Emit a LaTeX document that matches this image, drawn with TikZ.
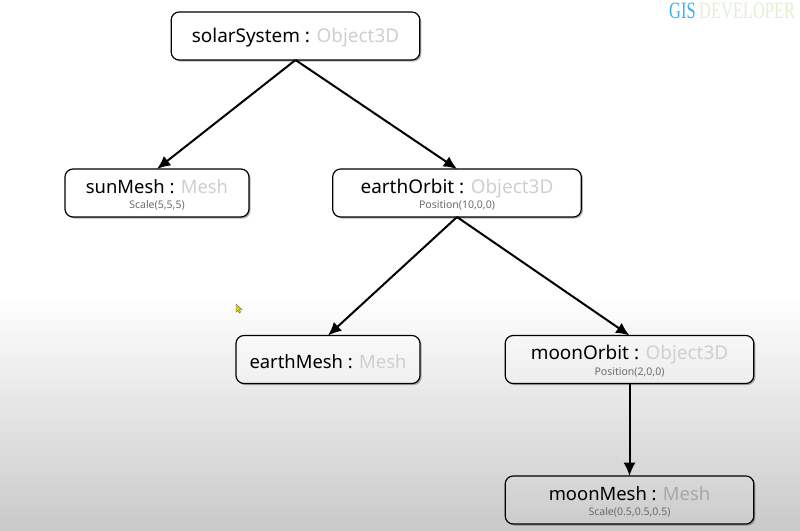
\documentclass[tikz,border=0pt]{standalone}
\usepackage{fontspec}
\setmainfont{Noto Sans}
\newfontfamily\logofont{Liberation Serif}
\usetikzlibrary{arrows.meta,shadows}
\definecolor{typegray}{gray}{0.81}
\definecolor{typedark}{gray}{0.66}
\definecolor{subgray}{gray}{0.42}
\definecolor{logoblue}{HTML}{3CB0EA}
\definecolor{logogreen}{HTML}{E2F0D0}
\tikzset{
  x=0.75pt,y=-0.75pt,
  objbox/.style={draw=black,line width=0.9pt,rounded corners=6pt,inner sep=0pt,outer sep=0pt,
    align=center,fill=white,
    drop shadow={shadow xshift=1.2pt,shadow yshift=-1.2pt,opacity=0.3,fill=black}},
  widebox/.style={objbox,minimum width=186.5pt,minimum height=36pt},
  narrowbox/.style={objbox,minimum width=138pt,minimum height=36pt},
  link/.style={line width=1.5pt,-{Latex[length=10pt,width=9pt]}},
  logotext/.style={inner sep=0pt,anchor=west,xscale=0.705,font=\logofont\fontsize{17.5}{18}\selectfont},
}
\newcommand{\nm}[1]{{\fontsize{14.2}{15}\selectfont\rule{0pt}{13pt}#1}}
\newcommand{\nmm}[1]{{\fontsize{13.8}{15}\selectfont\rule{0pt}{13pt}#1}}
\newcommand{\sbl}[1]{{\fontsize{7.9}{9}\selectfont\color{subgray} #1}}
\begin{document}
\begin{tikzpicture}
\useasboundingbox (0,0) rectangle (800,531);
\fill[white] (0,0) rectangle (800,300);
\shade[top color=white,bottom color=black!21] (0,295) rectangle (800,531);

% logo
\node[logotext,text=logoblue] (logoa) at (669,11) {GIS};
\node[logotext,text=logogreen] (logob) at (699,11) {DEVELOPER};

% cursor
\fill[yellow!70!olive,draw=black!60,line width=0.3pt] (236,304) -- (236,312) -- (238,310.5) -- (239.5,313) -- (240.5,312) -- (239.5,309.5) -- (242,309.5) -- cycle;

% boxes
\node[widebox] (solar) at (295.5,36) {\nm{solarSystem : \textcolor{typegray}{Object3D}}};
\node[narrowbox] (sun) at (157,193) {\nmm{sunMesh : \textcolor{typegray}{Mesh}}\\[-0.5pt]\sbl{Scale(5,5,5)}};
\node[widebox] (earthorbit) at (457,193) {\nm{earthOrbit : \textcolor{typegray}{Object3D}}\\[-0.5pt]\sbl{Position(10,0,0)}};
\node[narrowbox,top color=black!2,bottom color=black!6] (earthmesh) at (328,359.5) {\nmm{earthMesh : \textcolor{typegray}{Mesh}}};
\node[widebox,top color=black!3,bottom color=black!7] (moonorbit) at (629.5,359.5) {\nm{moonOrbit : \textcolor{typegray}{Object3D}}\\[-0.5pt]\sbl{Position(2,0,0)}};
\node[widebox,top color=black!15,bottom color=black!20] (moonmesh) at (629.5,500) {\nmm{moonMesh : \textcolor{typedark}{Mesh}}\\[-0.5pt]\sbl{Scale(0.5,0.5,0.5)}};

% links
\draw[link] (solar.south) -- (sun.north);
\draw[link] (solar.south) -- (earthorbit.north);
\draw[link] (earthorbit.south) -- (earthmesh.north);
\draw[link] (earthorbit.south) -- (moonorbit.north);
\draw[link] (moonorbit.south) -- (moonmesh.north);
\end{tikzpicture}
\end{document}
